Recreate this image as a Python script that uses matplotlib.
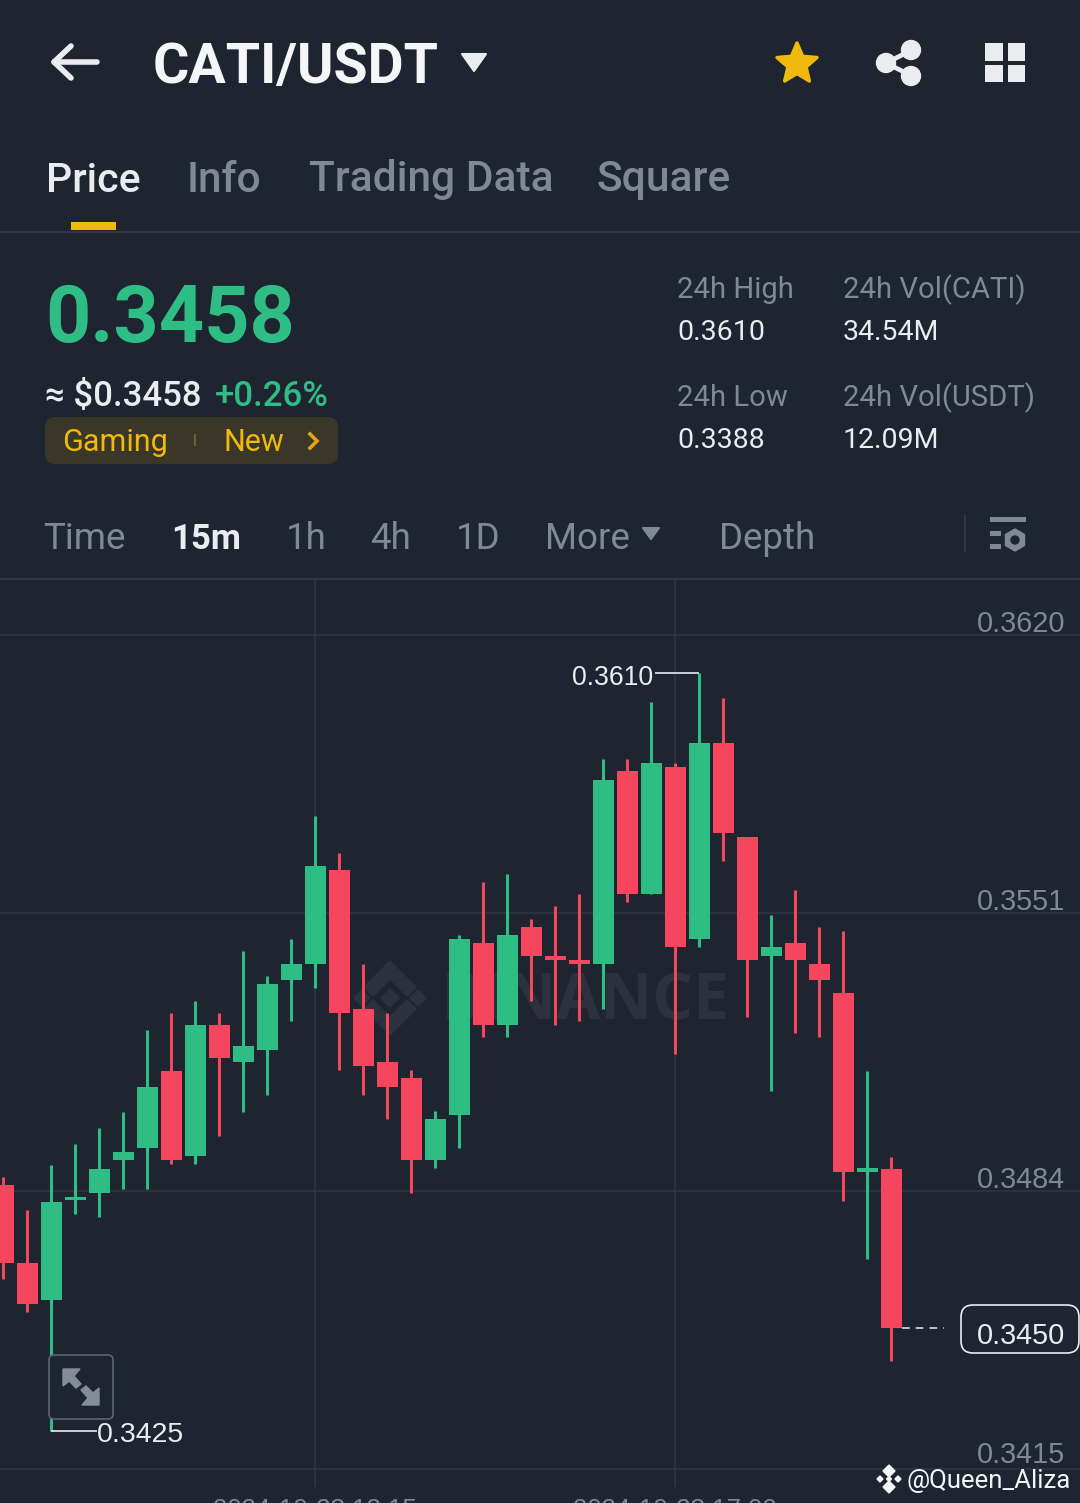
"""CATI/USDT 15m candlestick screen, redrawn with matplotlib."""

import matplotlib
matplotlib.use("Agg")
import matplotlib.pyplot as plt
from matplotlib.patches import Circle, FancyBboxPatch, Polygon, Rectangle
from matplotlib.transforms import ScaledTranslation
import numpy as np

BG = "#1e2530"
GRID = "#303743"
GREEN = "#2ebd85"
RED = "#f6465d"
YELLOW = "#f0b90b"
GREY = "#7f8896"
WHITE = "#eaecef"
UI_FONT = "Roboto"
CHART_FONT = "Liberation Sans"

# candles, oldest first
OPEN = [.34850, .34660, .34570, .34814, .34831, .34911, .34941, .35129, .34921,
        .35241, .35151, .35180, .35351, .35390, .35619, .35280, .35151, .35111,
        .34911, .35021, .35441, .35241, .35480, .35409, .35400, .35390, .35861,
        .35561, .35871, .35451, .35929, .35700, .35409, .35441, .35390, .35319,
        .34882, .34889]
HIGH = [.34870, .34789, .34899, .34950, .34990, .35029, .35229, .35270, .35299,
        .35270, .35422, .35360, .35451, .35751, .35661, .35390, .35270, .35131,
        .35031, .35461, .35590, .35609, .35500, .35531, .35561, .35890, .35890,
        .36029, .35880, .36100, .36039, .35700, .35509, .35570, .35480, .35470,
        .35129, .34919]
LOW = [.34621, .34540, .34250, .34780, .34772, .34841, .34841, .34902, .34902,
       .34970, .35029, .35070, .35251, .35331, .35131, .35070, .35011, .34831,
       .34892, .34941, .35212, .35212, .35299, .35241, .35251, .35280, .35541,
       .35561, .35170, .35431, .35641, .35260, .35080, .35221, .35212, .34811,
       .34670, .34421]
CLOSE = [.34660, .34560, .34809, .34821, .34889, .34931, .35090, .34911, .35241,
         .35160, .35190, .35341, .35390, .35629, .35270, .35141, .35090, .34911,
         .35011, .35451, .35241, .35461, .35409, .35400, .35390, .35839, .35561,
         .35880, .35431, .35929, .35710, .35400, .35431, .35400, .35351, .34882,
         .34892, .34501]

GRID_PRICES = [.36192, .35514, .34835, .34157]
PRICE_LABELS = ["0.3620", "0.3551", "0.3484", "0.3415"]
DATE_POSITIONS = [13, 28]
DATE_LABELS = ["2024-10-28 13:15", "2024-10-28 17:00"]
HIGH_LABEL = "0.3610"
LOW_LABEL = "0.3425"
LAST_LABEL = "0.3450"

TAB_LABELS = ["Price", "Info", "Trading Data", "Square"]
INTERVAL_LABELS = ["Time", "15m", "1h", "4h", "1D", "More", "Depth"]


def text(ax, x, y, s, size, color=WHITE, weight="normal", font=UI_FONT, ha="left"):
    return ax.text(x, y, s, fontsize=size, color=color, fontweight=weight,
                   family=font, ha=ha, va="baseline")


def draw_candles(ax):
    o, h, l, c = map(np.array, (OPEN, HIGH, LOW, CLOSE))
    x = np.arange(len(o))
    colors = [GREEN if a >= b else RED for a, b in zip(c, o)]
    ax.vlines(x, l, h, colors=colors, linewidth=2.2, zorder=3)
    ax.bar(x, np.abs(c - o), bottom=np.minimum(o, c), width=21 / 24,
           color=colors, linewidth=0, zorder=4)

    # extreme and last price markers
    hi = int(np.argmax(h))
    lo = int(np.argmin(l))
    ax.hlines(h[hi], hi - 44 / 24, hi, color=WHITE, linewidth=1.2, zorder=5)
    ax.annotate(HIGH_LABEL, xy=(hi, h[hi]), xytext=(-33, -3.5), textcoords="offset points",
                ha="right", va="center", fontsize=19.2, color=WHITE, family=CHART_FONT)
    ax.hlines(l[lo], lo, lo + 46 / 24, color=WHITE, linewidth=1.2, zorder=5)
    ax.annotate(LOW_LABEL, xy=(lo, l[lo]), xytext=(33, -3), textcoords="offset points",
                ha="left", va="center", fontsize=20.5, color=WHITE, family=CHART_FONT)
    ax.hlines(c[-1], len(c) - 1 + 11 / 24, len(c) - 1 + 53 / 24, color=WHITE,
              linewidth=1.1, linestyles=(0, (5, 4)), zorder=5)


def draw_watermark(ax, ui):
    tr = ui.transData
    cx, cy = 390, 998
    col = "#2c323d"
    for dx, r in [(-28, 8), (28, 8), (0, 9)]:
        ax.add_patch(Polygon([(cx + dx - r, cy), (cx + dx, cy - r), (cx + dx + r, cy), (cx + dx, cy + r)],
                             transform=tr, color=col, zorder=1))
    for sign in (-1, 1):
        chevron = [(0, 37), (26, 11), (17, 2), (0, 19), (-17, 2), (-26, 11)]
        ax.add_patch(Polygon([(cx + a, cy + sign * b) for a, b in chevron],
                             transform=tr, color=col, zorder=1))
    ax.text(585, 1020, "BINANCE", transform=tr, fontsize=46, color=col, fontweight="bold",
            family="Open Sans", ha="center", va="baseline", zorder=1)


def triangle(ui, x0, x1, y0, y1, color):
    ui.add_patch(Polygon([(x0, y0), (x1, y0), ((x0 + x1) / 2, y1)], closed=True, facecolor=color,
                         edgecolor=color, linewidth=1.5, joinstyle="round"))


def draw_header(ui):
    # back arrow
    ui.plot([54, 97], [62, 62], color=WHITE, lw=4, solid_capstyle="round")
    ui.plot([71, 54, 71], [46, 62, 78], color=WHITE, lw=4, solid_capstyle="round",
            solid_joinstyle="round")
    text(ui, 153, 83, "CATI/USDT", 40, "#f5f6f7", "bold")
    triangle(ui, 462, 486, 54, 71, WHITE)

    # star
    ang = np.deg2rad(np.arange(0, 360, 36) - 90)
    rad = np.where(np.arange(10) % 2 == 0, 21, 9.5)
    ui.add_patch(Polygon(np.c_[797 + rad * np.cos(ang), 64 + rad * np.sin(ang)], facecolor=YELLOW,
                         edgecolor=YELLOW, linewidth=2.5, joinstyle="round"))

    # share
    ui.plot([912, 886, 912], [50, 63, 76], color=WHITE, lw=3.4)
    for cx, cy in [(911, 50), (886, 63), (911, 76)]:
        ui.add_patch(Circle((cx, cy), 9.5, color=WHITE))

    # layout squares
    for x, y, w, h in [(985, 43, 18, 18), (1008, 43, 17, 18), (985, 65, 18, 17), (1008, 65, 17, 17)]:
        ui.add_patch(Rectangle((x, y), w, h, color=WHITE, linewidth=0))

    # tabs
    for x, s in zip([46, 187, 309, 597], TAB_LABELS):
        is_active = s == "Price"
        text(ui, x, 191.5, s, 29.5 if is_active else 30.6, WHITE if is_active else GREY, "medium")
    ui.add_patch(Rectangle((71, 222), 45, 8, color=YELLOW, linewidth=0))
    ui.plot([0, 1080], [231.5, 231.5], color=GRID, lw=1.5)


def draw_stats(ui):
    text(ui, 45.5, 342, "0.3458", 57, GREEN, "bold")
    text(ui, 45, 406, "≈ $0.3458", 25, WHITE, "medium")
    text(ui, 215, 406, "+0.26%", 25, GREEN, "medium")

    ui.add_patch(FancyBboxPatch((53, 425), 277, 31, boxstyle="round,pad=8,rounding_size=10",
                                facecolor="#3a3628", edgecolor="none"))
    text(ui, 62.5, 451, "Gaming", 22, YELLOW)
    ui.plot([195, 195], [435, 445], color="#6d6130", lw=1.5)
    text(ui, 223.5, 451, "New", 22, YELLOW)
    ui.plot([310, 317, 310], [434, 441, 448], color="#e0a50f", lw=2.6, solid_joinstyle="miter")

    for x, top, top_val, bottom, bottom_val in [
        (677, "24h High", "0.3610", "24h Low", "0.3388"),
        (843, "24h Vol(CATI)", "34.54M", "24h Vol(USDT)", "12.09M"),
    ]:
        text(ui, x, 298, top, 21.1, GREY)
        text(ui, x, 340, top_val, 20.5, WHITE)
        text(ui, x, 406, bottom, 21.1, GREY)
        text(ui, x, 448, bottom_val, 20.5, WHITE)


def draw_intervals(ui):
    for x, s in zip([43.5, 171.5, 286, 370, 456, 545, 719], INTERVAL_LABELS):
        if s == "15m":
            text(ui, x, 549, s, 25, WHITE, "bold")
        else:
            text(ui, x, 549, s, 26.5, GREY)
    triangle(ui, 643, 659, 528, 539, GREY)
    ui.plot([964.5, 964.5], [516, 551], color=GRID, lw=1.5)

    # chart settings icon
    ui.add_patch(Rectangle((990, 517), 36, 5, color=GREY, linewidth=0))
    ui.add_patch(Rectangle((990, 531), 11, 5, color=GREY, linewidth=0))
    ui.add_patch(Rectangle((990, 544), 11, 5, color=GREY, linewidth=0))
    ang = np.deg2rad(np.arange(0, 360, 60) + 90)
    ui.add_patch(Polygon(np.c_[1015 + 11 * np.cos(ang), 540 + 11 * np.sin(ang)], color=GREY))
    ui.add_patch(Circle((1015, 540), 4, color=BG))
    ui.plot([0, 1080], [579, 579], color=GRID, lw=1.5)


def draw_chart_overlay(ui):
    # expand button
    ui.add_patch(FancyBboxPatch((53, 1359), 56, 56, boxstyle="round,pad=4,rounding_size=5",
                                facecolor=BG, edgecolor="#5d6572", linewidth=1.2, zorder=6))
    ui.add_patch(Polygon([(63, 1369), (80, 1369), (74, 1376), (81, 1384), (76, 1388), (69, 1381), (63, 1386)],
                         color="#848c9a", zorder=7))
    ui.add_patch(Polygon([(99, 1405), (82, 1405), (88, 1398), (81, 1390), (86, 1386), (93, 1393), (99, 1388)],
                         color="#848c9a", zorder=7))

    # last price box
    ui.add_patch(FancyBboxPatch((971, 1315), 98, 28, boxstyle="round,pad=10,rounding_size=12",
                                facecolor=BG, edgecolor=WHITE, linewidth=1.2, zorder=6))
    ui.text(976.5, 1344, LAST_LABEL, fontsize=20.8, color=WHITE, family=CHART_FONT, va="baseline", zorder=7)

    # uploader tag
    col = "#f4f5f6"
    cx, cy = 889, 1479
    for dx, dy, r in [(0, -8, 6), (0, 8, 6), (-9, 0, 3), (9, 0, 3), (0, 0, 2.5)]:
        ui.add_patch(Polygon([(cx + dx - r, cy + dy), (cx + dx, cy + dy - r),
                              (cx + dx + r, cy + dy), (cx + dx, cy + dy + r)], color=col, zorder=7))
    text(ui, 906, 1488, "@Queen_Aliza", 18.5, col).set_zorder(7)


def main():
    plt.rcParams["font.family"] = [UI_FONT, "DejaVu Sans"]
    fig = plt.figure(figsize=(10.8, 15.03), dpi=100, facecolor=BG)

    # y: 0.3610 sits at pixel 673, 0.3425 at pixel 1431
    top_px, bottom_px = 580, 1487
    px_per_price = (1431 - 673) / (0.3610 - 0.3425)
    ax = fig.add_axes([0, 1 - bottom_px / 1503, 1, (bottom_px - top_px) / 1503], facecolor=BG)
    ax.set_ylim(0.3610 - (bottom_px - 673) / px_per_price, 0.3610 + (673 - top_px) / px_per_price)
    ax.set_xlim(-3 / 24, (1080 - 3) / 24)

    ui = fig.add_axes([0, 0, 1, 1], facecolor="none")
    ui.set_xlim(0, 1080)
    ui.set_ylim(1503, 0)
    ui.axis("off")

    for spine in ax.spines.values():
        spine.set_visible(False)
    ax.yaxis.tick_right()
    ax.set_yticks(GRID_PRICES, PRICE_LABELS)
    ax.tick_params(axis="y", length=0, pad=-10.5, labelsize=20.8, labelcolor=GREY)
    nudge = ScaledTranslation(0, -3 / 100, fig.dpi_scale_trans)
    for lab in ax.get_yticklabels():
        lab.set_ha("right")
        lab.set_va("bottom")
        lab.set_family(CHART_FONT)
        lab.set_zorder(6)
        # the lowest label sits higher above its line than the others
        if lab.get_text() != PRICE_LABELS[-1]:
            lab.set_transform(lab.get_transform() + nudge)
    ax.set_xticks(DATE_POSITIONS, DATE_LABELS)
    ax.tick_params(axis="x", length=0, pad=8, labelsize=18.6, labelcolor=GREY)
    for lab in ax.get_xticklabels():
        lab.set_family(CHART_FONT)
    ax.grid(True, color=GRID, linewidth=1.1, zorder=0)
    ax.set_axisbelow(True)

    draw_watermark(ax, ui)
    draw_candles(ax)
    draw_header(ui)
    draw_stats(ui)
    draw_intervals(ui)
    draw_chart_overlay(ui)

    fig.savefig("out.png", dpi=100, facecolor=BG)


if __name__ == "__main__":
    main()
